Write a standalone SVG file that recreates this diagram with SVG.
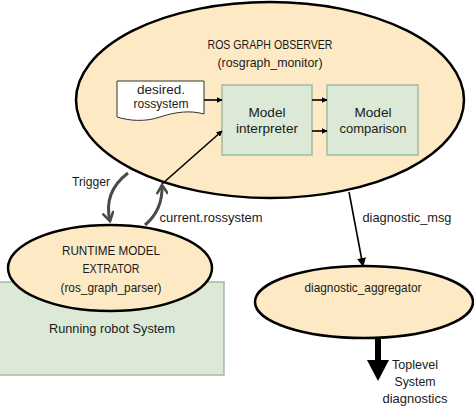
<svg xmlns="http://www.w3.org/2000/svg" width="474" height="407" viewBox="0 0 474 407">
<defs>
<style>
text{font-family:"Liberation Sans","Open Sans",sans-serif;font-size:13.5px;fill:#1a1a1a;text-anchor:middle}
.sm{font-size:12.5px}
.ell{fill:#fde9c4;stroke:#000;stroke-width:2.5}
.box{fill:#dce9d6;stroke:#a2bba2;stroke-width:1.5}
.thin{stroke:#000;stroke-width:1.6;fill:none}
.gray{stroke:#4a4a4a;stroke-width:3;fill:none}
</style>
<marker id="ah" viewBox="0 0 10 10" refX="9" refY="5" markerWidth="6" markerHeight="6" orient="auto" markerUnits="userSpaceOnUse">
<path d="M0,0 L10,5 L0,10 Z" fill="#000"/>
</marker>
<marker id="ah2" viewBox="0 0 10 10" refX="9" refY="5" markerWidth="9" markerHeight="9" orient="auto" markerUnits="userSpaceOnUse">
<path d="M0,0 L10,5 L0,10 Z" fill="#000"/>
</marker>
<marker id="chev" viewBox="0 0 12 12" refX="10" refY="6" markerWidth="12" markerHeight="12" orient="auto" markerUnits="userSpaceOnUse">
<path d="M2,1 L10,6 L2,11" fill="none" stroke="#4a4a4a" stroke-width="2.6" stroke-linecap="round"/>
</marker>
</defs>

<g id="robot-system">
<rect x="-1" y="282" width="225" height="93" class="box" fill="#dce9d6" stroke="#9fb8a8"/>
<text x="112" y="333" textLength="126" lengthAdjust="spacingAndGlyphs">Running robot System</text>
</g>

<g id="observer">
<ellipse cx="270" cy="100" rx="194" ry="98" class="ell"/>
<text x="270" y="49" textLength="125" lengthAdjust="spacingAndGlyphs">ROS GRAPH OBSERVER</text>
<text x="270" y="67" textLength="105" lengthAdjust="spacingAndGlyphs">(rosgraph_monitor)</text>
</g>

<g id="desired">
<path d="M117,81 H204 V114 C190,110 175,112 160,117 C145,122 130,121 117,117 Z" fill="#fff" stroke="#333" stroke-width="1"/>
<text class="sm" x="161" y="94" textLength="48" lengthAdjust="spacingAndGlyphs">desired.</text>
<text class="sm" x="161" y="108" textLength="55" lengthAdjust="spacingAndGlyphs">rossystem</text>
</g>

<g id="interpreter">
<rect x="222" y="85" width="90" height="70" class="box"/>
<text x="267" y="117" textLength="37" lengthAdjust="spacingAndGlyphs">Model</text>
<text x="267" y="133" textLength="62" lengthAdjust="spacingAndGlyphs">interpreter</text>
</g>

<g id="comparison">
<rect x="327" y="85" width="91" height="70" class="box"/>
<text x="373" y="117" textLength="37" lengthAdjust="spacingAndGlyphs">Model</text>
<text x="373" y="133" textLength="67" lengthAdjust="spacingAndGlyphs">comparison</text>
</g>

<g id="extractor">
<ellipse cx="110" cy="268" rx="102" ry="43" class="ell"/>
<text x="111" y="255" textLength="98" lengthAdjust="spacingAndGlyphs">RUNTIME MODEL</text>
<text x="111" y="273" textLength="57" lengthAdjust="spacingAndGlyphs">EXTRATOR</text>
<text x="111" y="292" textLength="101" lengthAdjust="spacingAndGlyphs">(ros_graph_parser)</text>
</g>

<g id="aggregator">
<ellipse cx="364" cy="302" rx="109" ry="36" class="ell"/>
<text x="363" y="292" textLength="117" lengthAdjust="spacingAndGlyphs">diagnostic_aggregator</text>
</g>

<g id="connectors">
<line x1="204" y1="100" x2="222" y2="100" class="thin" marker-end="url(#ah)"/>
<line x1="312" y1="100" x2="327" y2="100" class="thin" marker-end="url(#ah)"/>
<line x1="312" y1="131" x2="327" y2="131" class="thin" marker-end="url(#ah)"/>
<line x1="162" y1="184" x2="222" y2="131" class="thin" marker-end="url(#ah)"/>
<path d="M128,173 Q103,192 110,221" class="gray" marker-end="url(#chev)"/>
<path d="M145,225 Q163,210 162,185" class="gray" marker-end="url(#chev)"/>
<line x1="349" y1="192" x2="363" y2="266" class="thin" stroke-width="2" marker-end="url(#ah2)"/>
<line x1="378" y1="338" x2="378" y2="362" stroke="#000" stroke-width="6"/>
<path d="M367,360 L389,360 L378,381 Z" fill="#000"/>
</g>

<g id="labels">
<text x="91" y="186" textLength="38" lengthAdjust="spacingAndGlyphs">Trigger</text>
<text x="211" y="222" textLength="103" lengthAdjust="spacingAndGlyphs">current.rossystem</text>
<text x="407" y="222" textLength="89" lengthAdjust="spacingAndGlyphs">diagnostic_msg</text>
<text x="415" y="369" textLength="46" lengthAdjust="spacingAndGlyphs">Toplevel</text>
<text x="415" y="386" textLength="41" lengthAdjust="spacingAndGlyphs">System</text>
<text x="415" y="403" textLength="65" lengthAdjust="spacingAndGlyphs">diagnostics</text>
</g>
</svg>
